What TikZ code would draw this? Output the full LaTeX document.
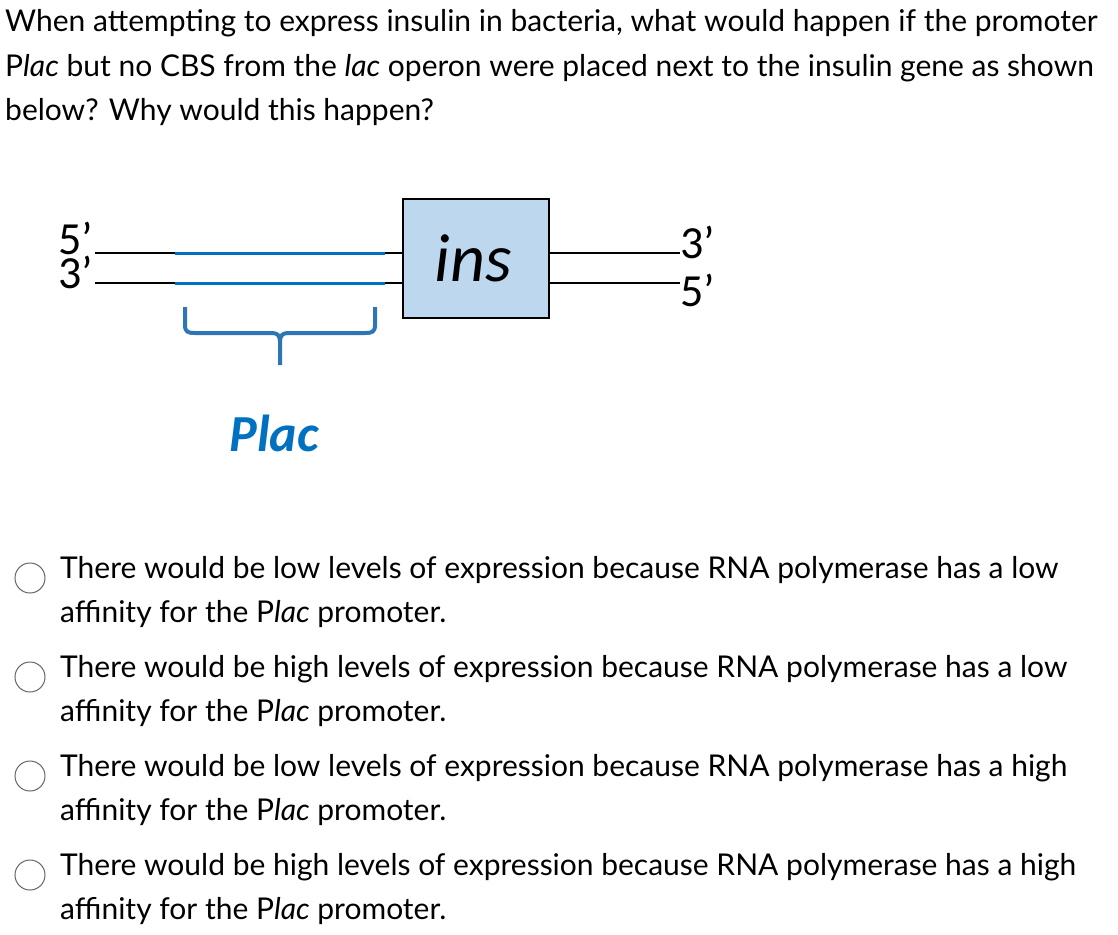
\documentclass[tikz,border=0pt]{standalone}
\usepackage{fontspec}
\setmainfont{Lato}
\newfontfamily\carl{Carlito}
\definecolor{pblue}{HTML}{0070C0}
\definecolor{bblue}{HTML}{2E75B6}
\definecolor{boxfill}{HTML}{BDD7EE}
\begin{document}
\begin{tikzpicture}[x=1pt,y=-1pt,
  q/.style={anchor=base west,inner sep=0pt,font=\fontsize{30}{36}\selectfont},
  opt/.style={circle,draw=black!60,line width=1pt,minimum size=30pt,inner sep=0pt},
  lab/.style={inner sep=0pt,font=\carl\fontsize{46}{46}\selectfont},
  strand/.style={line width=2pt},
  pl/.style={line width=3pt,pblue}]
\useasboundingbox (0,0) rectangle (1118,934);
\clip (0,0) rectangle (1118,934);
\node[q] (q1) at (5,32) {When attempting to express insulin in bacteria, what would happen if the promoter};
\node[q] (q2) at (5,76) {P\textit{lac} but no CBS from the \textit{lac} operon were placed next to the insulin gene as shown};
\node[q] (q3) at (5,120) {below? Why would this happen?};
% diagram
\node[draw,line width=2pt,fill=boxfill,minimum width=146pt,minimum height=119pt,anchor=north west] (box) at (402,198) {};
\node[font=\carl\itshape\fontsize{68}{68}\selectfont,inner sep=0pt] (ins) at (473,258) {ins};
\coordinate (l1) at (95,253); \coordinate (l2) at (95,283);
\coordinate (r1) at (680,253); \coordinate (r2) at (680,283);
\draw[strand] (l1) -- (box.west |- l1);
\draw[strand] (l2) -- (box.west |- l2);
\draw[strand] (box.east |- r1) -- (r1);
\draw[strand] (box.east |- r2) -- (r2);
\coordinate (p1a) at (175,253); \coordinate (p1b) at (385,253);
\coordinate (p2a) at (175,283); \coordinate (p2b) at (385,283);
\draw[pl] (p1a) -- (p1b);
\draw[pl] (p2a) -- (p2b);
\node[lab,anchor=east] (t5) at (93,238) {5’};
\node[lab,anchor=east] (t3) at (93,272) {3’};
\node[lab,anchor=west] (u3) at (680,242) {3’};
\node[lab,anchor=west] (u5) at (680,290) {5’};
\coordinate (b1) at (185,307); \coordinate (b2) at (375,307); \coordinate (bs) at (280,365);
\draw[bblue,line width=4pt,line join=round]
  (b1) -- (185,325) .. controls (185,332) and (188,333) .. (195,333) -- (272,333)
  .. controls (278,333) and (280,336) .. (280,342) -- (bs);
\draw[bblue,line width=4pt,line join=round]
  (b2) -- (375,325) .. controls (375,332) and (372,333) .. (365,333) -- (288,333)
  .. controls (282,333) and (280,336) .. (280,342);
\node[font=\carl\bfseries\itshape\fontsize{52}{52}\selectfont,text=pblue,inner sep=0pt] (plac) at (274,433) {Plac};
% options
\foreach \y/\a/\b [count=\i] in {578/low/low,677/high/low,776/low/high,875/high/high}{
  \node[opt] (c\i) at (30,\y) {};
  \node[q] (o\i a) at (60,\y) {There would be \a\ levels of expression because RNA polymerase has a \b};
  \node[q] (o\i b) at (60,\y+44) {affinity for the P\textit{lac} promoter.};
}
\end{tikzpicture}
\end{document}
